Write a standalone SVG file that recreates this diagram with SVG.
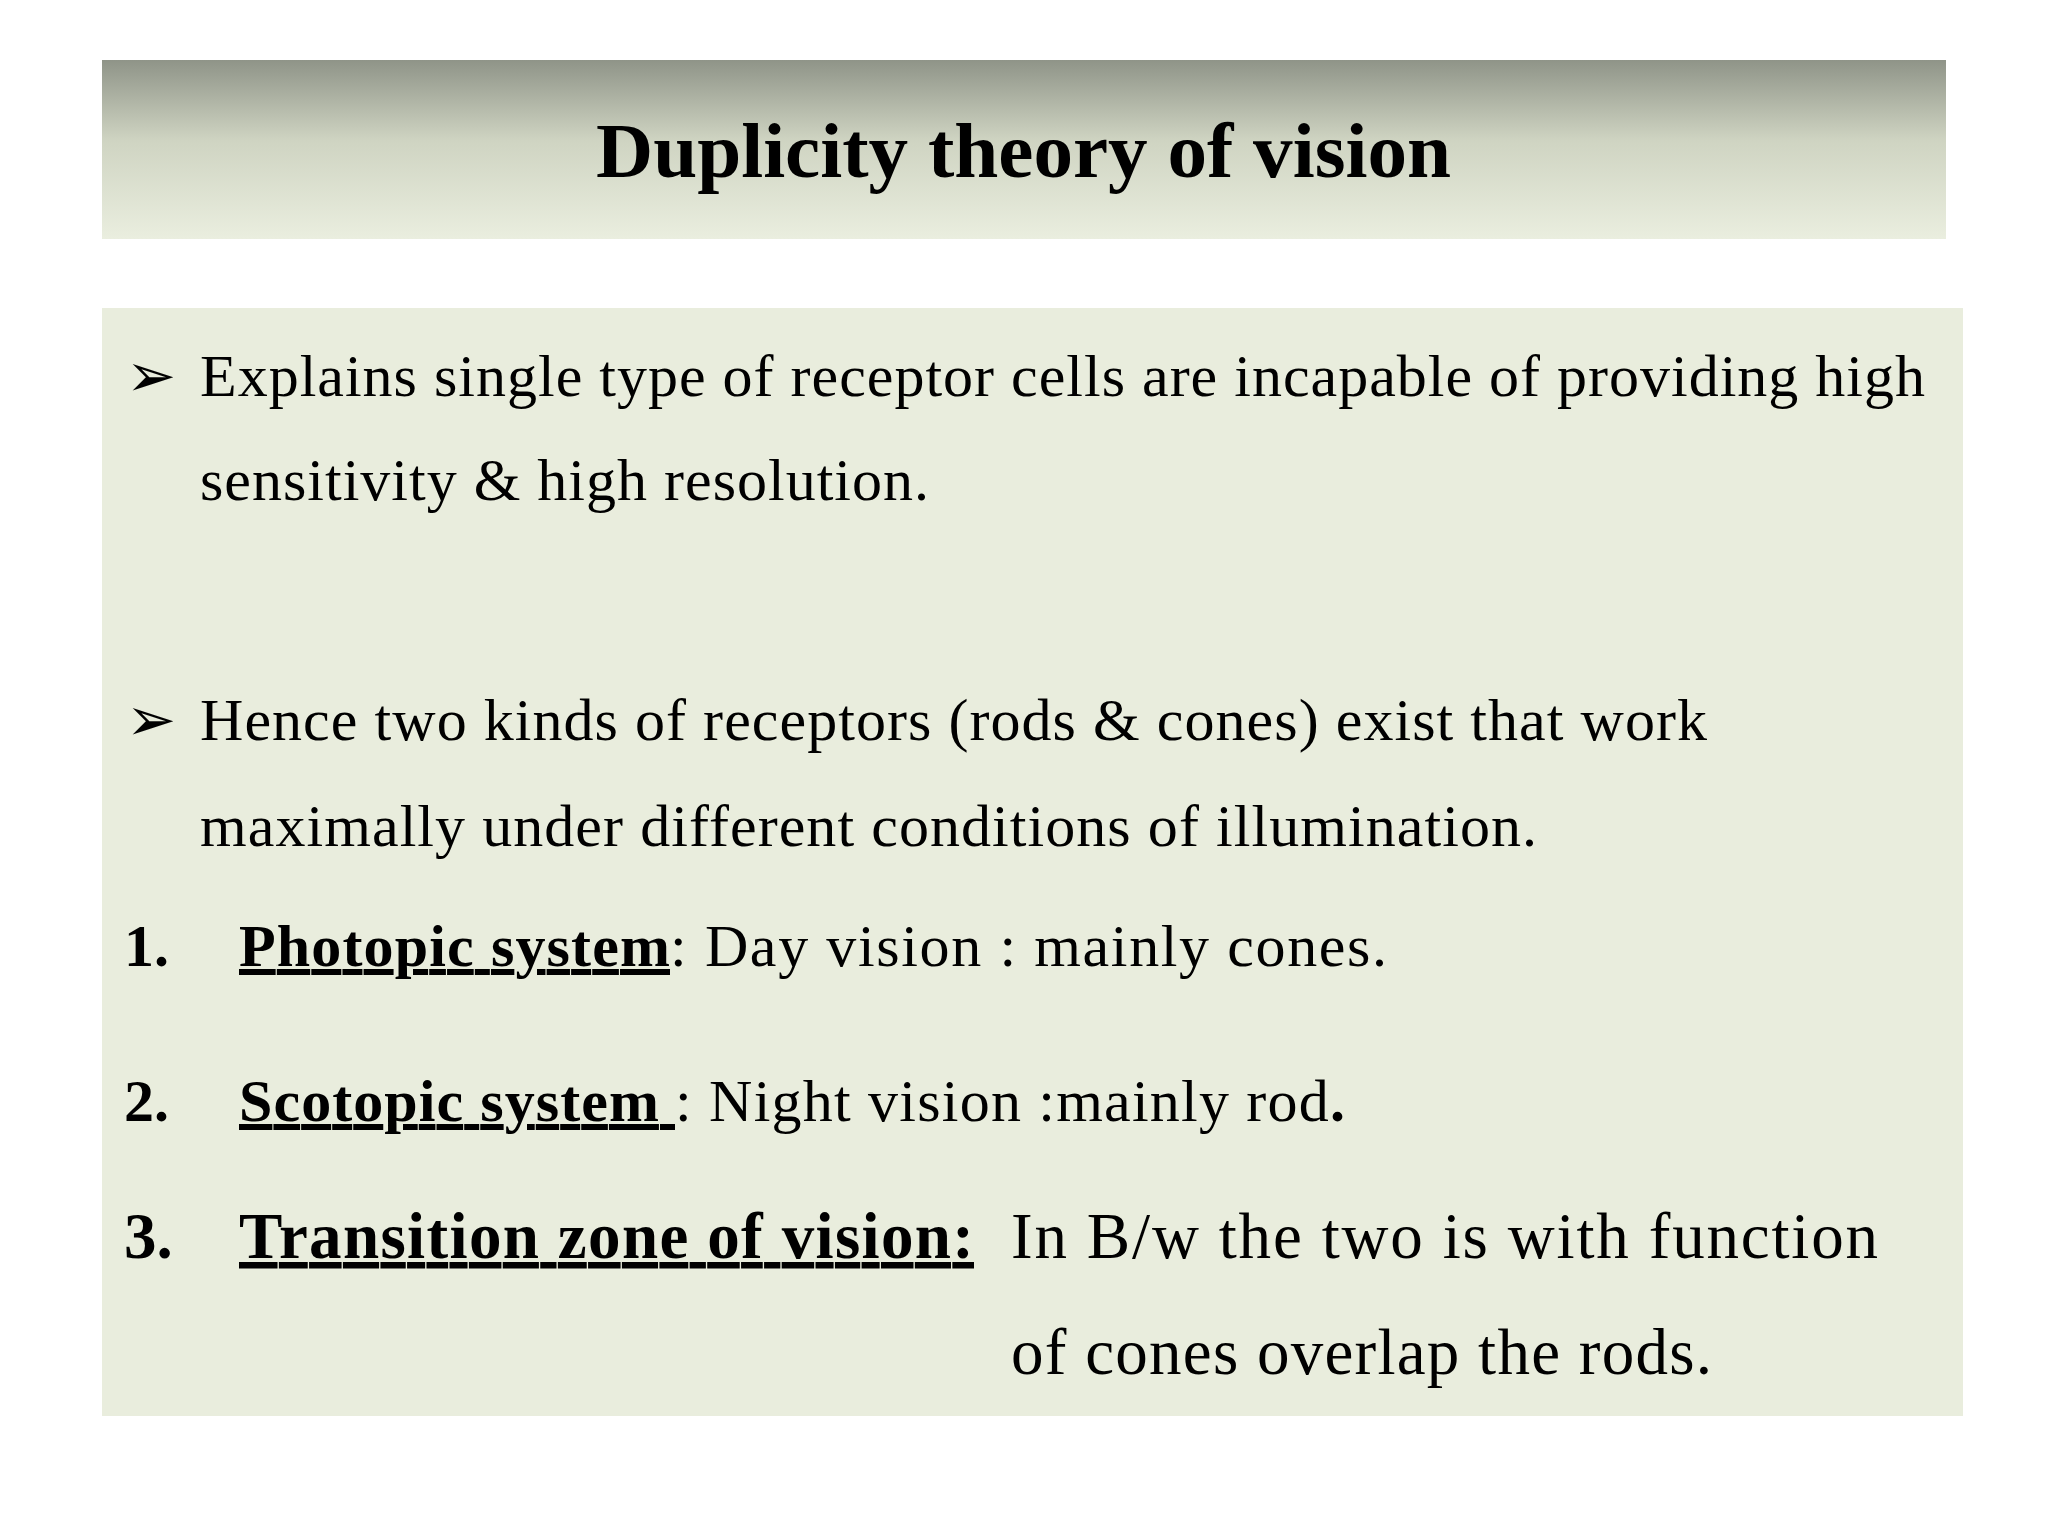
<svg xmlns="http://www.w3.org/2000/svg" width="2048" height="1536" viewBox="0 0 2048 1536">
<defs>
<linearGradient id="tg" x1="0" y1="0" x2="0" y2="1">
<stop offset="0" stop-color="#8f9488"/>
<stop offset="0.45" stop-color="#cfd4c2"/>
<stop offset="1" stop-color="#eaeedf"/>
</linearGradient>
<style>
.t{font-family:"Liberation Serif",serif;font-size:60px;fill:#000}
.b{font-weight:bold}
.u{text-decoration:underline}
</style>
</defs>
<rect width="2048" height="1536" fill="#fff"/>
<g id="title">
<rect x="102" y="60" width="1844" height="179" fill="url(#tg)"/>
<text x="596" y="177" class="t b" style="font-size:78px" textLength="855" lengthAdjust="spacingAndGlyphs">Duplicity theory of vision</text>
</g>
<g id="content">
<rect x="102" y="308" width="1861" height="1108" fill="#e9eddd"/>
<text x="126" y="396" class="t">➢</text>
<text x="200" y="396" class="t" textLength="1725">Explains single type of receptor cells are incapable of providing high</text>
<text x="200" y="500" class="t" textLength="729">sensitivity &amp; high resolution.</text>
<text x="126" y="740" class="t">➢</text>
<text x="200" y="740" class="t" textLength="1507">Hence two kinds of receptors (rods &amp; cones) exist that work</text>
<text x="200" y="846" class="t" textLength="1337">maximally under different conditions of illumination.</text>
<text x="124" y="966" class="t b">1.</text>
<text x="239" y="966" class="t b u" textLength="431">Photopic system</text>
<text x="670" y="966" class="t" textLength="717">: Day vision : mainly cones.</text>
<text x="124" y="1121" class="t b">2.</text>
<text x="239" y="1121" class="t b u" textLength="436" xml:space="preserve">Scotopic system </text>
<text x="675" y="1121" class="t" textLength="670">: Night vision :mainly rod<tspan class="b">.</tspan></text>
<text x="124" y="1258" class="t b" style="font-size:65px">3.</text>
<text x="239" y="1258" class="t b u" style="font-size:65px" textLength="735">Transition zone of vision:</text>
<text x="1011" y="1258" class="t" style="font-size:65px" textLength="867">In B/w the two is with function</text>
<text x="1011" y="1374" class="t" style="font-size:65px" textLength="701">of cones overlap the rods.</text>
</g>
</svg>
